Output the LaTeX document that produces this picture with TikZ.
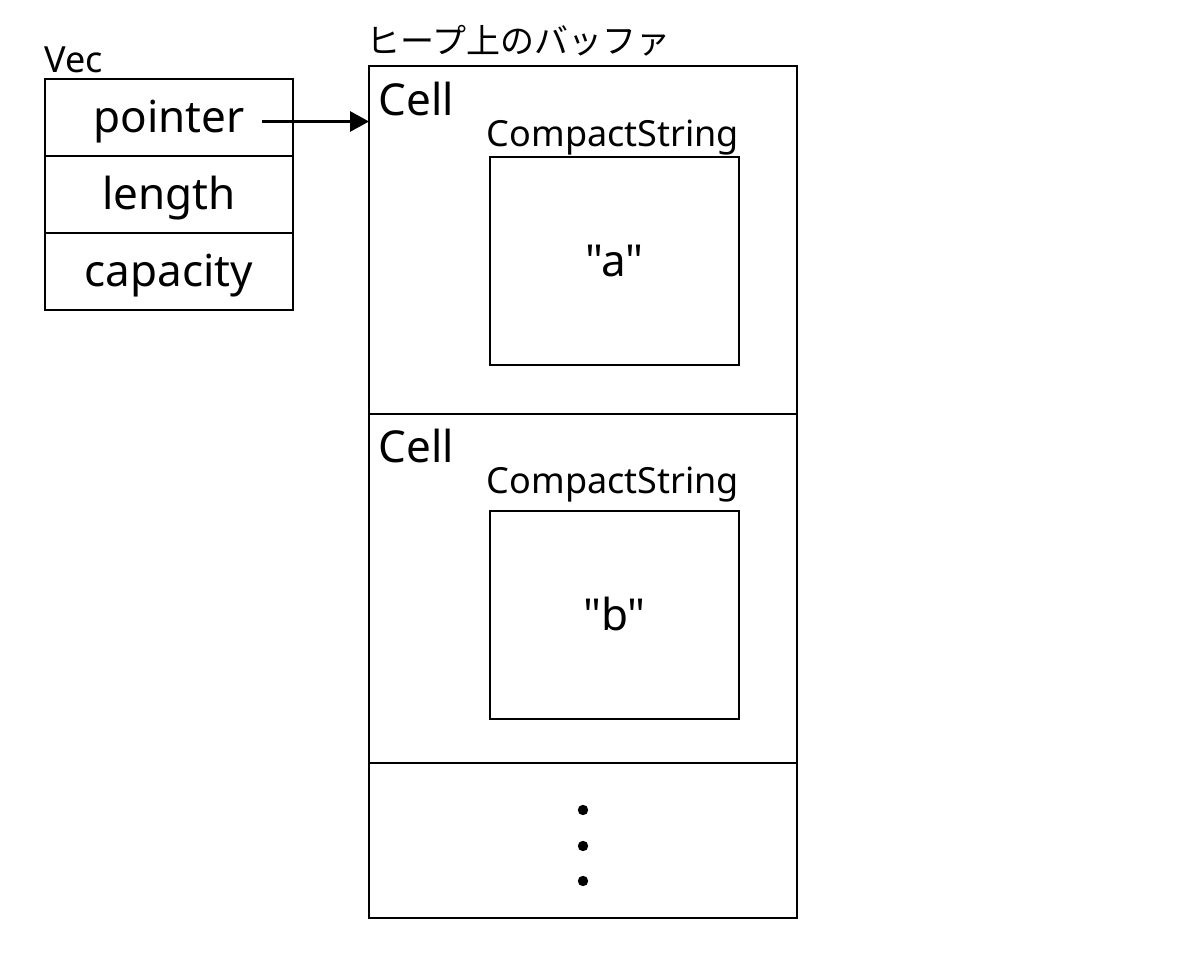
\documentclass[tikz,border=0pt]{standalone}
\usepackage{fontspec}
\setmainfont{Noto Sans}[Ligatures=TeXOff]
\newfontfamily\jpfont{Noto Sans CJK JP}
\usepackage{tikz}
\usetikzlibrary{arrows.meta,positioning}
\tikzstyle{field} = [rectangle, draw=black, line width=1pt, outer sep=0pt, minimum width=124pt, minimum height=38.5pt, inner sep=0pt, text height=17pt, text depth=1.5pt, font=\fontsize{22}{26}\selectfont]
\tikzstyle{cell} = [rectangle, draw=black, line width=1pt, outer sep=0pt, minimum width=214pt, inner sep=0pt]
\tikzstyle{inner} = [rectangle, draw=black, line width=1pt, outer sep=0pt, minimum width=124.5pt, minimum height=104pt, inner sep=0pt, text height=17pt, text depth=1.5pt, font=\fontsize{22}{26}\selectfont]
\tikzstyle{biglabel} = [inner sep=0pt, font=\fontsize{22}{26}\selectfont]
\tikzstyle{smalllabel} = [inner sep=0pt, font=\fontsize{18}{22}\selectfont]
\tikzstyle{arrow} = [line width=1.5pt, -{Triangle[length=9.5pt,width=10pt]}]
\begin{document}
\begin{tikzpicture}[x=0.5pt, y=-0.5pt]
\useasboundingbox (0,0) rectangle (1200,962);
% Vec
\node (vptr) [field] at (169,117.5) {pointer};
\node (vlen) [field, below=0pt of vptr] {length};
\node (vcap) [field, below=0pt of vlen] {capacity};
\node (vecname) [smalllabel, anchor=base west] at (44,73) {Vec};
% buffer
\node (cell1) [cell, minimum height=174pt, anchor=north west] at (369,66) {};
\node (cell2) [cell, minimum height=174.5pt, below=0pt of cell1] {};
\node (cell3) [cell, minimum height=77.5pt, below=0pt of cell2] {};
\node (bufname) [smalllabel, font=\fontsize{17}{20}\selectfont, anchor=base west] at (366,54) {\jpfont ヒープ上のバッファ};
\node (cname1) [biglabel, anchor=base west] at (378,116) {Cell};
\node (sname1) [smalllabel, anchor=base] at (613,147) {CompactString};
\node (str1) [inner] at (614.5,261.5) {"a"};
\node (cname2) [biglabel, anchor=base west] at (378,463) {Cell};
\node (sname2) [smalllabel, anchor=base] at (613,494) {CompactString};
\node (str2) [inner] at (614.5,615) {"b"};
% dots
\foreach \y in {810,846,881}
  \fill (583,\y) circle (2.6pt);
\draw [arrow] ([xshift=-15.5pt,yshift=-2pt]vptr.east) -- ([yshift=-2pt]cell1.west |- vptr.east);
\end{tikzpicture}
\end{document}
